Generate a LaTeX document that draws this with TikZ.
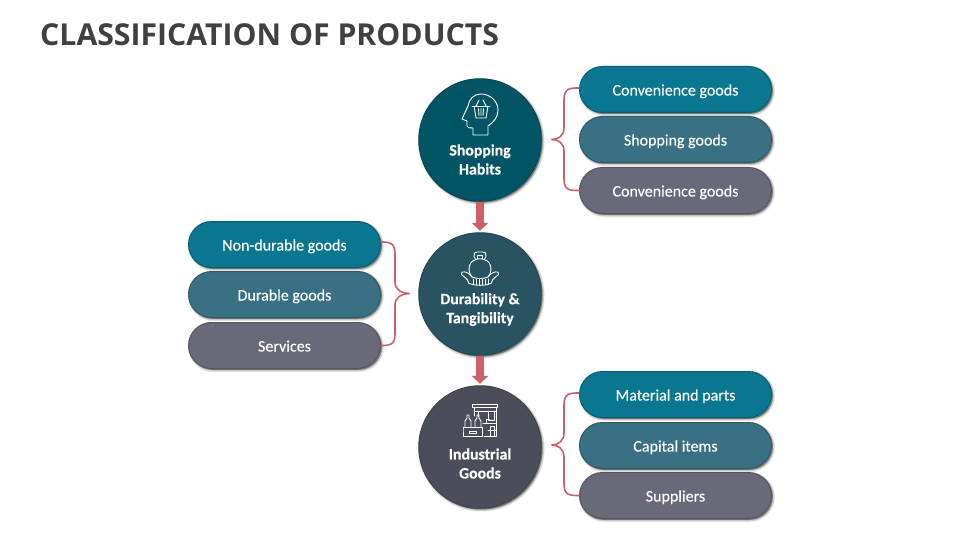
\documentclass[tikz,border=0pt]{standalone}
\usepackage{fontspec}
\setmainfont{Carlito}
\newfontfamily\titlefont{Open Sans}
\newfontfamily\pillfont[FakeBold=0.25]{Carlito}
\newfontfamily\hubfont[FakeBold=0.3]{Carlito Bold}
\usetikzlibrary{shapes.misc,arrows.meta,calc}
\definecolor{cA}{HTML}{035565}
\definecolor{cB}{HTML}{2A5362}
\definecolor{cC}{HTML}{4C4D5A}
\definecolor{pA}{HTML}{08778F}
\definecolor{pB}{HTML}{3A7083}
\definecolor{pC}{HTML}{686A79}
\definecolor{red1}{HTML}{CD5F66}
\definecolor{ttl}{HTML}{404040}
\tikzset{
  x=1pt,y=-1pt,
  softshadow/.style={
    preaction={draw=black,fill=black,opacity=.08,line width=4pt,transform canvas={shift={(1.5pt,-1.5pt)}}},
    preaction={draw=black,fill=black,opacity=.12,line width=2.5pt,transform canvas={shift={(1.5pt,-1.5pt)}}},
    preaction={draw=black,fill=black,opacity=.2,line width=1pt,transform canvas={shift={(1pt,-1pt)}}}},
  pill/.style={rounded rectangle,softshadow,minimum width=192pt,minimum height=46pt,inner sep=0pt,
    text=white,font=\pillfont\fontsize{16}{18}\selectfont,text height=12pt,text depth=0pt,line width=1pt},
  pa/.style={pill,fill=pA,draw=pA!80!black},
  pb/.style={pill,fill=pB,draw=pB!80!black},
  pc/.style={pill,fill=pC,draw=pC!80!black},
  hub/.style={circle,softshadow,minimum size=122.5pt,inner sep=0pt,line width=1pt},
  hubtext/.style={text=white,font=\hubfont\fontsize{15.8}{19}\selectfont,align=center,inner sep=0pt},
  brace/.style={draw=red1,line width=1.6pt,line cap=round},
  flow/.style={draw=red1,line width=8pt,-{Triangle[length=8pt,width=16.5pt]},shorten >=1.5pt},
  icon/.style={draw=white,line width=.9pt,line join=round,line cap=round},
}
\begin{document}
\begin{tikzpicture}
\useasboundingbox (0,0) rectangle (960,540);
\node[anchor=west,inner sep=0pt,text=ttl,font=\titlefont\fontsize{30.2}{32}\bfseries\selectfont] (title) at (40,35) {CLASSIFICATION OF PRODUCTS};

\coordinate (c1) at (480,140);
\coordinate (c2) at (480,294);
\coordinate (c3) at (480,447);
\node[hub,fill=cA,draw=cA!85!black] (h1) at (c1) {};
\node[hub,fill=cB,draw=cB!85!black] (h2) at (c2) {};
\node[hub,fill=cC,draw=cC!85!black] (h3) at (c3) {};
\draw[flow] (h1.south) -- (h2.north);
\draw[flow] (h2.south) -- (h3.north);

\node[hubtext] (t1) at (480,159.5) {Shopping\\Habits};
\node[hubtext] (t2) at (480,309.5) {Durability \&\\Tangibility};
\node[hubtext] (t3) at (480,463.5) {Industrial\\Goods};

% right top
\node[pa] (a1) at (675.5,89.5) {Convenience goods};
\node[pb] (a2) at (675.5,139.5) {Shopping goods};
\node[pc] (a3) at (675.5,190.5) {Convenience goods};
% left
\node[pa] (b1) at (284.5,244.5) {Non-durable goods};
\node[pb] (b2) at (284.5,294.5) {Durable goods};
\node[pc] (b3) at (284.5,345.5) {Services};
% right bottom
\node[pa] (d1) at (675.5,394.5) {Material and parts};
\node[pb] (d2) at (675.5,445.5) {Capital items};
\node[pc] (d3) at (675.5,495.5) {Suppliers};

% braces
\coordinate (tipa) at (552,139.5);
\coordinate (tipb) at (409,293.5);
\coordinate (tipd) at (552,445);
\draw[brace] ($(a1.west)+(0,-1.5)$) .. controls (570,88) and (564,88) .. (564,100) -- (564,128) .. controls (564,136) and (558,139.5) .. (tipa);
\draw[brace] (a3.west) .. controls (570,190.5) and (564,190.5) .. (564,179) -- (564,151) .. controls (564,143) and (558,139.5) .. (tipa);
\draw[brace] ($(b1.east)+(0,-2.5)$) .. controls (389,242) and (395,242) .. (395,254) -- (395,282) .. controls (395,290) and (402,293.5) .. (tipb);
\draw[brace] (b3.east) .. controls (389,345.5) and (395,345.5) .. (395,334) -- (395,305) .. controls (395,297) and (402,293.5) .. (tipb);
\draw[brace] ($(d1.west)+(0,-1.5)$) .. controls (570,393) and (564,393) .. (564,405) -- (564,433) .. controls (564,441) and (558,445) .. (tipd);
\draw[brace] (d3.west) .. controls (570,495.5) and (564,495.5) .. (564,484) -- (564,457) .. controls (564,449) and (558,445) .. (tipd);

% icon 1: head with basket
\draw[icon] (488,135) -- (488,126) .. controls (494,122) and (498,117) .. (498,110)
  .. controls (498,101) and (490,94) .. (481,94) .. controls (474,94) and (469,99) .. (468,106)
  -- (462,119) -- (467,121) -- (467,126) .. controls (467,128) and (470,128) .. (473,128) -- (473,135) -- cycle;
\draw[icon] (472,106) -- (490,106);
\draw[icon] (474,106) -- (476,118) -- (486,118) -- (488,106);
\draw[icon] (476,106) -- (479,100) (486,106) -- (483,100);
\draw[icon] (478.5,108.5) -- (479,115.5) (481,108.5) -- (481,115.5) (483.5,108.5) -- (483,115.5);

% icon 2: kettlebell on cradle
\draw[icon] (476,259.5) .. controls (474.5,258.5) and (474,257) .. (474,255.5) .. controls (474,253) and (475,252) .. (477,252) -- (483,252) .. controls (485,252) and (486,253) .. (486,255.5) .. controls (486,257) and (485.5,258.5) .. (484,259.5);
\draw[icon] (477.5,255.5) -- (482.5,255.5) (477.5,255.5) -- (477.5,258.5) (482.5,255.5) -- (482.5,258.5);
\draw[icon] (472,277) .. controls (468,273) and (467,262) .. (476,259.5) .. controls (478,258.5) and (482,258.5) .. (484,259.5) .. controls (493,262) and (492,273) .. (488,277);
\draw[icon] (462,272) .. controls (466,271) and (470,274) .. (472,277) .. controls (477,279) and (483,279) .. (488,277) .. controls (490,274) and (494,271) .. (498,272)
  .. controls (500,274) and (498,276) .. (496,276.5) .. controls (493,278) and (492,281) .. (491,283.5) .. controls (484,286) and (476,286) .. (469,283.5)
  .. controls (468,281) and (467,278) .. (464,276.5) .. controls (462,276) and (460,274) .. (462,272) -- cycle;
\foreach \xa in {473,476,479,482,485,488}{\draw[icon,line width=.6pt] (\xa,279) -- (\xa,284.5);}

% icon 3: shelf and box
\draw[icon] (472,404) rectangle (497,407);
\draw[icon] (474,407) -- (474,416) (496,407) -- (496,436) -- (484,436);
\draw[icon] (474,411) -- (496,411) (483,423) -- (496,423) (488,430) -- (496,430);
\draw[icon] (478,411) -- (478,417) (488,411) -- (488,420) -- (494,420) -- (494,411);
\draw[icon] (486,423) -- (486,419) -- (490,419);
\draw[icon] (490,430) -- (490,436) (490,426) rectangle (494,436);
\draw[icon] (463,429) -- (463,436) -- (482,436) -- (482,427) -- (463,427) -- cycle;
\draw[icon] (469,431) rectangle (476,433);
\draw[icon] (465,427) -- (465,421) -- (467,418) -- (467,415) -- (469,415) -- (469,418) -- (471,421) -- (471,427);
\draw[icon] (475,427) -- (475,421) -- (477,418) -- (477,415) -- (479,415) -- (479,418) -- (481,421) -- (481,427);
\end{tikzpicture}
\end{document}
